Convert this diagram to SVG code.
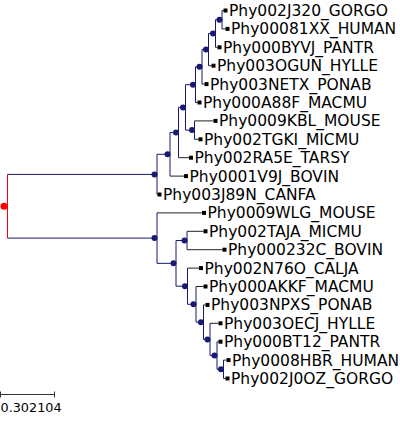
<svg xmlns="http://www.w3.org/2000/svg" width="400" height="443" viewBox="0 0 400 443">
<style>
.v{stroke:#191970;stroke-width:1;fill:none}
.h{stroke:#191970;stroke-width:1;fill:none}
.hl{stroke:#222;stroke-width:1;fill:none}
.r{stroke:#ff0000;stroke-width:1;fill:none}
.dot{fill:#191970}
.sq{fill:#000}
.lbl{font-family:"DejaVu Sans",sans-serif;font-size:15.5px;fill:#000}
.sc{stroke:#333;stroke-width:1;fill:none}
.sct{font-family:"DejaVu Sans",sans-serif;font-size:12.8px;fill:#000}
</style>
<rect width="400" height="443" fill="#fff"/>
<g id="connectors">
<path class="r" d="M7.5,174.4V238.1"/>
<path class="h" d="M7.5,174.4H157M7.5,238.1H157"/>
<path class="v" d="M157,154.3V194.5M170,132.55V176.1M178.5,107.4V157.7M185.5,84.7V130.1M194.5,120.9V139.3M195.5,66.85V102.5M202,49.6V84.1M208.5,33.5V65.7M215.5,19.7V47.3M222,10.5V28.9"/>
<path class="h" d="M157,154.3H170M170,132.55H178.5M178.5,107.4H185.5M185.5,84.7H195.5M185.5,130.1H194.5M195.5,66.85H202M202,49.6H208.5M208.5,33.5H215.5M215.5,19.7H222"/>
<path class="hl" d="M157,194.5H157.5M170,176.1H184M178.5,157.7H189M194.5,120.9H213.5M194.5,139.3H198.5M195.5,102.5H197.5M202,84.1H204.5M208.5,65.7H211.5M215.5,47.3H217.5M222,10.5H223.5M222,28.9H225.5"/>
<path class="v" d="M157,212.9V263.35M176,240.5V286.2M187,231.3V249.7M187.5,268.1V304.3M196,286.5V322.15M203.5,304.9V339.4M210,323.3V355.5M217,341.7V369.3M223.5,360.1V378.5"/>
<path class="h" d="M157,263.35H176M176,240.5H187M176,286.2H187.5M187.5,304.3H196M196,322.15H203.5M203.5,339.4H210M210,355.5H217M217,369.3H223.5"/>
<path class="hl" d="M157,212.9H202M187,231.3H203.5M187,249.7H222.5M187.5,268.1H199M196,286.5H203.5M203.5,304.9H205.5M210,323.3H218.5M217,341.7H218.5M223.5,360.1H226.5M223.5,378.5H225.5"/>
</g>
<g id="root"><circle cx="4" cy="206.25" r="3.5" fill="#ff0000"/></g>
<g id="n1"><circle class="dot" cx="219.5" cy="19.7" r="3"/></g>
<g id="n2"><circle class="dot" cx="213" cy="33.5" r="3"/></g>
<g id="n3"><circle class="dot" cx="206" cy="49.6" r="3"/></g>
<g id="n4"><circle class="dot" cx="199.5" cy="66.85" r="3"/></g>
<g id="n5"><circle class="dot" cx="193" cy="84.7" r="3"/></g>
<g id="n6"><circle class="dot" cx="192" cy="130.1" r="3"/></g>
<g id="n7"><circle class="dot" cx="183" cy="107.4" r="3"/></g>
<g id="n8"><circle class="dot" cx="176" cy="132.55" r="3"/></g>
<g id="n9"><circle class="dot" cx="167.5" cy="154.3" r="3"/></g>
<g id="n10"><circle class="dot" cx="154.5" cy="174.4" r="3"/></g>
<g id="m1"><circle class="dot" cx="221" cy="369.3" r="3"/></g>
<g id="m2"><circle class="dot" cx="214.5" cy="355.5" r="3"/></g>
<g id="m3"><circle class="dot" cx="207.5" cy="339.4" r="3"/></g>
<g id="m4"><circle class="dot" cx="201" cy="322.15" r="3"/></g>
<g id="m5"><circle class="dot" cx="193.5" cy="304.3" r="3"/></g>
<g id="m6"><circle class="dot" cx="185" cy="286.2" r="3"/></g>
<g id="m7"><circle class="dot" cx="184.5" cy="240.5" r="3"/></g>
<g id="m8"><circle class="dot" cx="173.5" cy="263.35" r="3"/></g>
<g id="m9"><circle class="dot" cx="154.5" cy="238.1" r="3"/></g>
<g id="leaf1"><rect class="sq" x="223.5" y="8.5" width="4" height="4"/><text class="lbl" x="229" y="16">Phy002J320_GORGO</text></g>
<g id="leaf2"><rect class="sq" x="225.5" y="26.9" width="4" height="4"/><text class="lbl" x="231" y="34.4">Phy00081XX_HUMAN</text></g>
<g id="leaf3"><rect class="sq" x="217.5" y="45.3" width="4" height="4"/><text class="lbl" x="223" y="52.8">Phy000BYVJ_PANTR</text></g>
<g id="leaf4"><rect class="sq" x="211.5" y="63.7" width="4" height="4"/><text class="lbl" x="217" y="71.2">Phy003OGUN_HYLLE</text></g>
<g id="leaf5"><rect class="sq" x="204.5" y="82.1" width="4" height="4"/><text class="lbl" x="210" y="89.6">Phy003NETX_PONAB</text></g>
<g id="leaf6"><rect class="sq" x="197.5" y="100.5" width="4" height="4"/><text class="lbl" x="203" y="108">Phy000A88F_MACMU</text></g>
<g id="leaf7"><rect class="sq" x="213.5" y="118.9" width="4" height="4"/><text class="lbl" x="219" y="126.4">Phy0009KBL_MOUSE</text></g>
<g id="leaf8"><rect class="sq" x="198.5" y="137.3" width="4" height="4"/><text class="lbl" x="204" y="144.8">Phy002TGKI_MICMU</text></g>
<g id="leaf9"><rect class="sq" x="189" y="155.7" width="4" height="4"/><text class="lbl" x="194.5" y="163.2">Phy002RA5E_TARSY</text></g>
<g id="leaf10"><rect class="sq" x="184" y="174.1" width="4" height="4"/><text class="lbl" x="189.5" y="181.6">Phy0001V9J_BOVIN</text></g>
<g id="leaf11"><rect class="sq" x="157.5" y="192.5" width="4" height="4"/><text class="lbl" x="163" y="200">Phy003J89N_CANFA</text></g>
<g id="leaf12"><rect class="sq" x="202" y="210.9" width="4" height="4"/><text class="lbl" x="207.5" y="218.4">Phy0009WLG_MOUSE</text></g>
<g id="leaf13"><rect class="sq" x="203.5" y="229.3" width="4" height="4"/><text class="lbl" x="209" y="236.8">Phy002TAJA_MICMU</text></g>
<g id="leaf14"><rect class="sq" x="222.5" y="247.7" width="4" height="4"/><text class="lbl" x="228" y="255.2">Phy000232C_BOVIN</text></g>
<g id="leaf15"><rect class="sq" x="199" y="266.1" width="4" height="4"/><text class="lbl" x="204.5" y="273.6">Phy002N76O_CALJA</text></g>
<g id="leaf16"><rect class="sq" x="203.5" y="284.5" width="4" height="4"/><text class="lbl" x="209" y="292">Phy000AKKF_MACMU</text></g>
<g id="leaf17"><rect class="sq" x="205.5" y="302.9" width="4" height="4"/><text class="lbl" x="211" y="310.4">Phy003NPXS_PONAB</text></g>
<g id="leaf18"><rect class="sq" x="218.5" y="321.3" width="4" height="4"/><text class="lbl" x="224" y="328.8">Phy003OECJ_HYLLE</text></g>
<g id="leaf19"><rect class="sq" x="218.5" y="339.7" width="4" height="4"/><text class="lbl" x="224" y="347.2">Phy000BT12_PANTR</text></g>
<g id="leaf20"><rect class="sq" x="226.5" y="358.1" width="4" height="4"/><text class="lbl" x="232" y="365.6">Phy0008HBR_HUMAN</text></g>
<g id="leaf21"><rect class="sq" x="225.5" y="376.5" width="4" height="4"/><text class="lbl" x="231" y="384">Phy002J0OZ_GORGO</text></g>
<g id="scale">
<path class="sc" d="M0.5,394.5H54.5M0.5,391.5V397.5M54.5,391.5V397.5"/>
<text class="sct" x="0.5" y="411.5">0.302104</text>
</g>
</svg>
